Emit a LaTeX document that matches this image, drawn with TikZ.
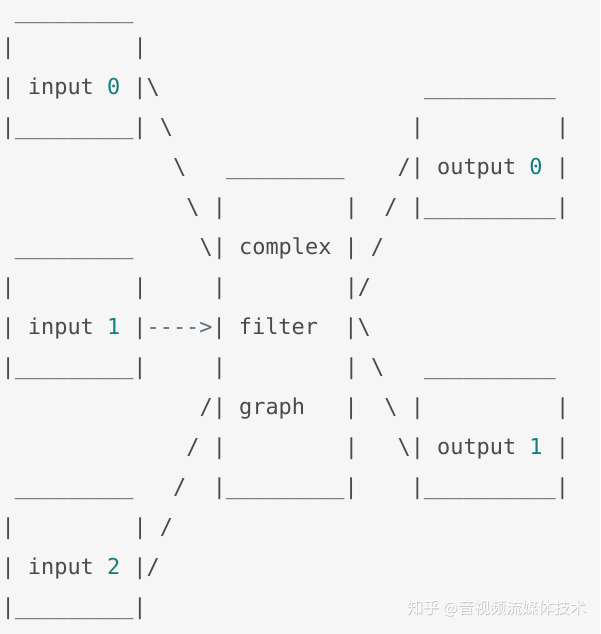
\documentclass[tikz,border=0pt]{standalone}
\usepackage{fontspec}
\setmonofont{DejaVu Sans Mono}
\newfontfamily\cjk{Noto Sans CJK SC}
\definecolor{bg}{HTML}{F6F6F6}
\definecolor{ink}{HTML}{4A4A4A}
\definecolor{numc}{HTML}{127E7E}
\definecolor{arr}{HTML}{5A6E80}
\newcommand{\dg}[1]{\textcolor{numc}{#1}}
\newcommand{\bs}{\textbackslash}
\tikzset{seg/.style={anchor=base west,inner sep=0pt,outer sep=0pt,text=ink,font=\ttfamily\fontsize{21.9}{24}\selectfont}}
\newcommand{\seg}[3]{\node[seg] at ({1.6+13.2*#1},{632-(#2)}) {#3};}
\begin{document}
\begin{tikzpicture}[x=1pt,y=1pt]
\fill[bg] (0,0) rectangle (600,634);
\useasboundingbox (0,0) rectangle (600,634);
\seg{1}{17}{\_\_\_\_\_\_\_\_\_}
\seg{0}{53}{|}\seg{10}{53}{|}
\seg{0}{93}{|~input~\dg{0}~|\bs}\seg{32}{93}{\_\_\_\_\_\_\_\_\_\_}
\seg{0}{133}{|\_\_\_\_\_\_\_\_\_|~\bs}\seg{31}{133}{|}\seg{42}{133}{|}
\seg{13}{173}{\bs}\seg{17}{173}{\_\_\_\_\_\_\_\_\_}\seg{30}{173}{/|~output~\dg{0}~|}
\seg{14}{213}{\bs~|}\seg{26}{213}{|}\seg{29}{213}{/}\seg{31}{213}{|\_\_\_\_\_\_\_\_\_\_|}
\seg{1}{253}{\_\_\_\_\_\_\_\_\_}\seg{15}{253}{\bs|~complex~|~/}
\seg{0}{293}{|}\seg{10}{293}{|}\seg{16}{293}{|}\seg{26}{293}{|/}
\seg{0}{333}{|~input~\dg{1}~|\textcolor{arr}{---->}|~filter~~|\bs}
\seg{0}{373}{|\_\_\_\_\_\_\_\_\_|}\seg{16}{373}{|}\seg{26}{373}{|~\bs}\seg{32}{373}{\_\_\_\_\_\_\_\_\_\_}
\seg{15}{413}{/|~graph~~~|}\seg{29}{413}{\bs~|}\seg{42}{413}{|}
\seg{14}{453}{/~|}\seg{26}{453}{|}\seg{30}{453}{\bs|~output~\dg{1}~|}
\seg{1}{493}{\_\_\_\_\_\_\_\_\_}\seg{13}{493}{/}\seg{16}{493}{|\_\_\_\_\_\_\_\_\_|}\seg{31}{493}{|\_\_\_\_\_\_\_\_\_\_|}
\seg{0}{533}{|}\seg{10}{533}{|~/}
\seg{0}{573}{|~input~\dg{2}~|/}
\seg{0}{613}{|\_\_\_\_\_\_\_\_\_|}
\node[anchor=east,inner sep=0pt,text=black!25,font=\cjk\fontsize{16}{18}\selectfont] at (586.7,25.3) {知乎 @音视频流媒体技术};
\node[anchor=east,inner sep=0pt,text=white,font=\cjk\fontsize{16}{18}\selectfont] (wm) at (586,26) {知乎 @音视频流媒体技术};
\end{tikzpicture}
\end{document}
